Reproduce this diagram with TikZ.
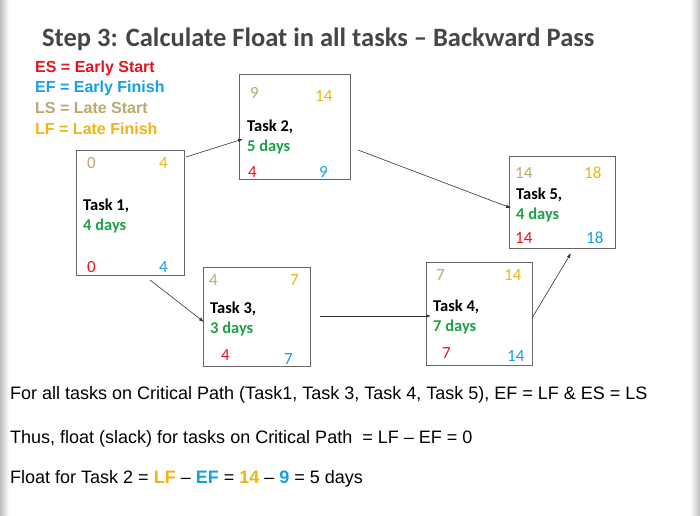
\documentclass[tikz,border=0pt]{standalone}
\usepackage{fontspec}
\setmainfont{Liberation Sans}
\newfontfamily\calfont{Carlito}
\usetikzlibrary{arrows.meta}
\definecolor{cES}{RGB}{230,20,30}
\definecolor{cEF}{RGB}{20,160,225}
\definecolor{cLS}{RGB}{185,170,110}
\definecolor{cLF}{RGB}{240,180,20}
\definecolor{cGr}{RGB}{30,160,70}
\definecolor{cTi}{RGB}{70,70,70}
\begin{document}
\begin{tikzpicture}[x=1pt,y=-1pt,
  box/.style={draw=black!60,line width=0.8pt,fill=white},
  num/.style={anchor=base west,font=\calfont\fontsize{17}{17}\selectfont,inner sep=0},
  lab/.style={anchor=base west,font=\calfont\bfseries\fontsize{16.5}{20}\selectfont,inner sep=0,align=left},
  leg/.style={anchor=base west,font=\bfseries\fontsize{16}{16}\selectfont,inner sep=0},
  txt/.style={anchor=base west,font=\fontsize{18}{18}\selectfont,inner sep=0},
  con/.style={draw=black!80,line width=0.6pt,-{Latex[length=5pt,width=3.5pt]}}]
\useasboundingbox (0,0) rectangle (700,515);
\fill[white] (0,0) rectangle (700,515);
\shade[left color=black!25,right color=white] (0,0) rectangle (9,515);
\shade[left color=white,right color=black!25] (690,0) rectangle (700,515);
\node[anchor=base west,inner sep=0,font=\calfont\bfseries\fontsize{26.5}{26}\selectfont,text=cTi] (title) at (42,46) {Step 3: Calculate Float in all tasks \textendash\ Backward Pass};
\node[leg,text=cES] (l1) at (35,72) {ES = Early Start};
\node[leg,text=cEF] (l2) at (35,92) {EF = Early Finish};
\node[leg,text=cLS] (l3) at (35,113) {LS = Late Start};
\node[leg,text=cLF] (l4) at (35,134) {LF = Late Finish};
% boxes
\draw[box] (76,150) rectangle (184,275);
\draw[box] (239,74) rectangle (350,179);
\draw[box] (509,156) rectangle (615,248);
\draw[box] (203,267) rectangle (310,366);
\draw[box] (426,262) rectangle (532,365);
% task 1
\node[num,text=cLS] (a1) at (87,168) {0};
\node[num,text=cLF] (a2) at (159,168) {4};
\node[lab] (a3) at (83,230) {Task 1,\\\textcolor{cGr}{4 days}};
\node[num,text=cES] (a4) at (87,272) {0};
\node[num,text=cEF] (a5) at (159,272) {4};
% task 2
\node[num,text=cLS] (b1) at (250,98) {9};
\node[num,text=cLF] (b2) at (315,101) {14};
\node[lab] (b3) at (247,151) {Task 2,\\\textcolor{cGr}{5 days}};
\node[num,text=cES] (b4) at (248,177) {4};
\node[num,text=cEF] (b5) at (319,177) {9};
% task 5
\node[num,text=cLS] (e1) at (515,178) {14};
\node[num,text=cLF] (e2) at (584,178) {18};
\node[lab] (e3) at (516,219) {Task 5,\\\textcolor{cGr}{4 days}};
\node[num,text=cES] (e4) at (515,243) {14};
\node[num,text=cEF] (e5) at (586,243) {18};
% task 3
\node[num,text=cLS] (c1) at (209,285) {4};
\node[num,text=cLF] (c2) at (290,285) {7};
\node[lab] (c3) at (210,333) {Task 3,\\\textcolor{cGr}{3 days}};
\node[num,text=cES] (c4) at (221,360) {4};
\node[num,text=cEF] (c5) at (284,364) {7};
% task 4
\node[num,text=cLS] (d1) at (436,280) {7};
\node[num,text=cLF] (d2) at (504,280) {14};
\node[lab] (d3) at (433,331) {Task 4,\\\textcolor{cGr}{7 days}};
\node[num,text=cES] (d4) at (442,358) {7};
\node[num,text=cEF] (d5) at (507,361) {14};
% connectors
\coordinate (p1) at (186,157); \coordinate (q1) at (243,139);
\coordinate (p2) at (358,150); \coordinate (q2) at (511,208);
\coordinate (p3) at (150,280); \coordinate (q3) at (204,322);
\coordinate (p4) at (320,316); \coordinate (q4) at (431,316);
\coordinate (p5) at (532,318); \coordinate (q5) at (571,253);
\draw[con] (p1) -- (q1);
\draw[con] (p2) -- (q2);
\draw[con] (p3) -- (q3);
\draw[con] (p4) -- (q4);
\draw[con] (p5) -- (q5);
% text
\node[txt] (s1) at (10,399) {For all tasks on Critical Path (Task1, Task 3, Task 4, Task 5), EF = LF \& ES = LS};
\node[txt] (s2) at (10,443) {Thus, float (slack) for tasks on Critical Path \ = LF -- EF = 0};
\node[txt] (s3) at (10,483) {Float for Task 2 = \textcolor{cLF}{\bfseries LF} -- \textcolor{cEF}{\bfseries EF} = \textcolor{cLF}{\bfseries 14} -- \textcolor{cEF}{\bfseries 9} = 5 days};
\end{tikzpicture}
\end{document}
